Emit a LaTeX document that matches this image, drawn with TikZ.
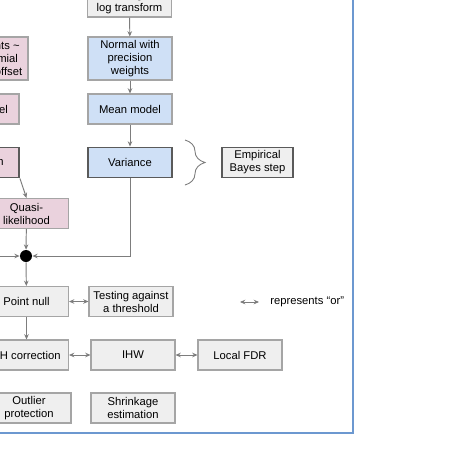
\documentclass[tikz,border=0pt]{standalone}
\usepackage{fontspec}
\setmainfont{Liberation Sans}
\usetikzlibrary{
    arrows.meta,
    decorations.pathreplacing,
    positioning
}
\definecolor{bluefill}{RGB}{207,224,246}
\definecolor{pinkfill}{RGB}{234,210,221}
\definecolor{grayfill}{RGB}{239,239,239}
\definecolor{edge}{RGB}{165,165,165}
\definecolor{darkedge}{RGB}{90,90,90}
\definecolor{frame}{RGB}{108,152,208}
\definecolor{link}{RGB}{125,125,125}

\tikzset{
    box/.style={draw=edge, line width=0.6pt, align=center, inner sep=1pt,
        minimum width=1.68cm, minimum height=0.6cm,
        font=\fontsize{6.4}{7.4}\selectfont},
    bluebox/.style={box, fill=bluefill},
    pinkbox/.style={box, fill=pinkfill},
    graybox/.style={box, fill=grayfill},
    keybox/.style={draw=darkedge, line width=1.1pt},
    flow/.style={draw=link, line width=0.55pt, -{Stealth[length=3pt,width=2.6pt]}},
    either/.style={draw=link, line width=0.55pt,
        {Stealth[length=3pt,width=2.6pt]}-{Stealth[length=3pt,width=2.6pt]}}
}

\begin{document}
\begin{tikzpicture}[x=0.02cm, y=-0.02cm]
    \useasboundingbox (0,0) rectangle (474,474);
    \clip (0,0) rectangle (474,474);
    \fill[white] (0,0) rectangle (474,474);

    % Right column: log-normal route
    \node[graybox, minimum height=0.58cm] (logt) at (129.5,2.5) {Scaling \&\\log transform};
    \node[bluebox, minimum height=0.86cm] (normal) at (130,58.5) {Normal with\\precision\\weights};
    \node[bluebox] (meanm) at (130,109) {Mean model};
    \node[bluebox, keybox] (var) at (130,162.5) {Variance};

    % Empirical Bayes
    \draw[link, line width=0.5pt, decorate, decoration={brace, amplitude=0.4cm, aspect=0.5}]
        (185,140) -- (185,185);
    \node[graybox, keybox, minimum width=1.42cm] (ebayes) at (257.5,162.5) {Empirical\\Bayes step};

    % Left column: count route
    \node[pinkbox, minimum width=1.24cm, minimum height=0.86cm] (counts) at (-3,58.5) {Counts \textasciitilde\\binomial\\with offset};
    \node[pinkbox] (glm) at (-23,109) {Mean model};
    \node[pinkbox, keybox] (disp) at (-23,162.5) {Dispersion};
    \node[pinkbox] (quasi) at (26.5,213.5) {Quasi-\\likelihood};

    % Join
    \node[circle, fill=black, minimum size=0.24cm, inner sep=0pt] (join) at (26,256) {};
    \coordinate (offleft) at (-40,256);

    % Testing
    \node[graybox] (pnull) at (26.5,301.5) {Point null};
    \node[graybox] (thresh) at (131,301.5) {Testing against\\a threshold};
    \node[graybox] (bh) at (26.5,355) {BH correction};
    \node[graybox] (ihw) at (133,355) {IHW};
    \node[graybox] (lfdr) at (240,355) {Local FDR};
    \node[graybox] (outlier) at (29,408) {Outlier\\protection};
    \node[graybox] (shrink) at (133,408) {Shrinkage\\estimation};

    % Legend
    \coordinate (keyA) at (240,302);
    \coordinate (keyB) at (259,302);
    \node[anchor=west, font=\fontsize{6.4}{7.4}\selectfont, inner sep=0pt] (keytext) at (270,302) {represents ``or''};

    % Connectors
    \draw[flow] (logt) -- (normal);
    \draw[flow] (normal) -- (meanm);
    \draw[flow] (meanm) -- (var);
    \draw[flow] (var.south) |- (join);
    \draw[flow] (disp.south east) -- (quasi.north);
    \draw[flow] (quasi) -- (join);
    \draw[flow] (offleft) -- (join);
    \draw[flow] (join) -- (pnull);
    \draw[either] (pnull) -- (thresh);
    \draw[flow] (pnull) -- (bh);
    \draw[either] (bh) -- (ihw);
    \draw[either] (ihw) -- (lfdr);
    \draw[either] (keyA) -- (keyB);

    % Frame
    \draw[frame, line width=0.9pt] (-20,433) -- (353,433) -- (353,-20);
\end{tikzpicture}
\end{document}
